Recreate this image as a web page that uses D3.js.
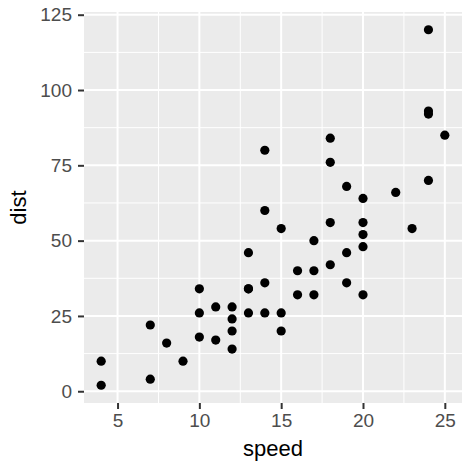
<!DOCTYPE html>
<html>
<head>
<meta charset="utf-8">
<script src="https://cdn.jsdelivr.net/npm/d3@7"></script>
<style>
  body { margin: 0; background: #fff; }
  text { font-family: "Liberation Sans", Arial, sans-serif; }
</style>
</head>
<body>
<svg width="474" height="474"></svg>
<script>
// cars data
var speed = [4,4,7,7,8,9,10,10,10,11,11,12,12,12,12,13,13,13,13,14,14,14,14,15,15,15,16,16,17,17,17,18,18,18,18,19,19,19,20,20,20,20,20,22,23,24,24,24,24,25];
var dist = [2,10,4,22,16,10,18,26,34,17,28,14,20,24,28,26,34,34,46,26,36,60,80,20,26,54,32,40,32,40,50,42,56,76,84,36,46,68,32,48,52,56,64,66,54,70,92,93,120,85];
var xTicks = [5, 10, 15, 20, 25];
var xMinor = [7.5, 12.5, 17.5, 22.5];
var yTicks = [0, 25, 50, 75, 100, 125];
var yMinor = [12.5, 37.5, 62.5, 87.5, 112.5];

var pLeft = 84, pRight = 462, pTop = 12, pBottom = 403;

var svg = d3.select("svg");

var xr = d3.extent(speed), yr = d3.extent(dist);
var xpad = (xr[1] - xr[0]) * 0.05, ypad = (yr[1] - yr[0]) * 0.05;
var x = d3.scaleLinear().domain([xr[0] - xpad, xr[1] + xpad]).range([pLeft, pRight]);
var y = d3.scaleLinear().domain([yr[0] - ypad, yr[1] + ypad]).range([pBottom, pTop]);

svg.append("rect")
  .attr("x", pLeft).attr("y", pTop)
  .attr("width", pRight - pLeft).attr("height", pBottom - pTop)
  .attr("fill", "#ebebeb");

var grid = svg.append("g");
grid.selectAll(".xmin").data(xMinor).enter().append("line")
  .attr("x1", d => x(d)).attr("x2", d => x(d))
  .attr("y1", pTop).attr("y2", pBottom)
  .attr("stroke", "#fff").attr("stroke-width", 1);
grid.selectAll(".ymin").data(yMinor).enter().append("line")
  .attr("y1", d => y(d)).attr("y2", d => y(d))
  .attr("x1", pLeft).attr("x2", pRight)
  .attr("stroke", "#fff").attr("stroke-width", 1);
grid.selectAll(".xmaj").data(xTicks).enter().append("line")
  .attr("x1", d => x(d)).attr("x2", d => x(d))
  .attr("y1", pTop).attr("y2", pBottom)
  .attr("stroke", "#fff").attr("stroke-width", 2);
grid.selectAll(".ymaj").data(yTicks).enter().append("line")
  .attr("y1", d => y(d)).attr("y2", d => y(d))
  .attr("x1", pLeft).attr("x2", pRight)
  .attr("stroke", "#fff").attr("stroke-width", 2);

var xAxis = svg.append("g")
  .attr("transform", "translate(0," + pBottom + ")")
  .call(d3.axisBottom(x).tickValues(xTicks).tickSize(6).tickPadding(5));
var yAxis = svg.append("g")
  .attr("transform", "translate(" + pLeft + ",0)")
  .call(d3.axisLeft(y).tickValues(yTicks).tickSize(6).tickPadding(6));

[xAxis, yAxis].forEach(function (a) {
  a.select(".domain").remove();
  a.selectAll(".tick line").attr("stroke", "#333").attr("stroke-width", 2);
  a.selectAll(".tick text")
    .attr("fill", "#4d4d4d")
    .style("font-size", "19px")
    .style("font-family", "'Liberation Sans', Arial, sans-serif");
});

svg.append("g").selectAll("circle")
  .data(speed)
  .enter()
  .append("circle")
  .attr("cx", (d) => x(d))
  .attr("cy", (d, i) => y(dist[i]))
  .attr("r", 4.6)
  .attr("fill", "#000");

svg.append("text")
  .attr("x", (pLeft + pRight) / 2).attr("y", 456)
  .attr("text-anchor", "middle")
  .style("font-size", "22px")
  .text("speed");

svg.append("text")
  .attr("transform", "translate(26," + (pTop + pBottom) / 2 + ") rotate(-90)")
  .attr("text-anchor", "middle")
  .style("font-size", "22px")
  .text("dist");
</script>
</body>
</html>
